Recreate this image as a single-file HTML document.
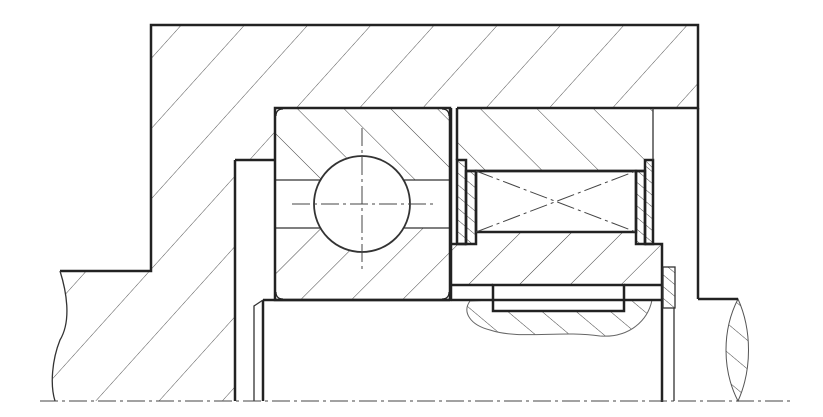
<!DOCTYPE html>
<html><head><style>html,body{margin:0;padding:0;background:#fff}svg{display:block}</style></head>
<body>
<svg width="823" height="417" viewBox="0 0 823 417" xmlns="http://www.w3.org/2000/svg">
<defs>
<pattern id="hH" patternUnits="userSpaceOnUse" width="200" height="47" patternTransform="translate(181,25) rotate(-48)"><line x1="-10" y1="0" x2="210" y2="0" stroke="#555" stroke-width="1"/></pattern>
<pattern id="hB" patternUnits="userSpaceOnUse" width="200" height="33" patternTransform="translate(297,108) rotate(45)"><line x1="-10" y1="0" x2="210" y2="0" stroke="#444" stroke-width="1"/></pattern>
<pattern id="hI" patternUnits="userSpaceOnUse" width="200" height="36" patternTransform="translate(300,300) rotate(-45)"><line x1="-10" y1="0" x2="210" y2="0" stroke="#444" stroke-width="1"/></pattern>
<pattern id="hC" patternUnits="userSpaceOnUse" width="200" height="40" patternTransform="translate(480,108) rotate(45)"><line x1="-10" y1="0" x2="210" y2="0" stroke="#444" stroke-width="1"/></pattern>
<pattern id="hS" patternUnits="userSpaceOnUse" width="200" height="9" patternTransform="rotate(40)"><line x1="-10" y1="0" x2="210" y2="0" stroke="#444" stroke-width="1"/></pattern>
<pattern id="hW" patternUnits="userSpaceOnUse" width="200" height="22" patternTransform="rotate(40)"><line x1="-10" y1="0" x2="210" y2="0" stroke="#444" stroke-width="1"/></pattern>
</defs>
<path d="M151,25 H698 V108 H275 V160 H235 V401 H55 C45,370 70,330 66,300 C64,285 60,275 60,271 H151 Z" fill="url(#hH)"/>
<rect x="275" y="108" width="175" height="72" fill="url(#hB)"/>
<rect x="275" y="228" width="175" height="72" fill="url(#hI)"/>
<g fill="none" stroke="#333" stroke-width="1.3">
<line x1="275" y1="180" x2="450" y2="180"/>
<line x1="275" y1="228" x2="450" y2="228"/>
</g>
<circle cx="362" cy="204" r="48" fill="#fff"/>
<rect x="457" y="108" width="196" height="63" fill="url(#hC)"/>
<rect x="466" y="171" width="170" height="61" fill="#fff"/>
<path d="M451,244 H476 V232 H636 V244 H662 V285 H451 Z" fill="url(#hI)"/>
<rect x="457" y="160" width="9" height="84" fill="url(#hS)"/>
<rect x="466" y="171" width="10" height="73" fill="url(#hS)"/>
<rect x="636" y="171" width="9" height="73" fill="url(#hS)"/>
<rect x="645" y="160" width="8" height="84" fill="url(#hS)"/>
<rect x="663" y="267" width="12" height="41" fill="url(#hS)"/>
<path d="M470,301 C462,312 470,325 490,330 C520,340 560,330 600,336 C630,338 648,320 652,300 H624 V311 H493 V300 Z" fill="url(#hW)" stroke="#666" stroke-width="1"/>
<path d="M738,299 C722,330 722,370 738,401 C752,370 752,330 738,299 Z" fill="url(#hW)" stroke="#555" stroke-width="1"/>

<g fill="none" stroke="#222" stroke-width="2.5">
<path d="M60,271 H151 V25 H698 V108 H457"/>
<line x1="698" y1="108" x2="698" y2="299"/>
<path d="M698,299 H738"/>
<line x1="235" y1="160" x2="235" y2="401"/>
<path d="M235,160 H275"/>
<rect x="275" y="108" width="175" height="192"/>
<line x1="451" y1="108" x2="451" y2="300"/>
<line x1="457" y1="108" x2="457" y2="160"/>
<line x1="263" y1="300" x2="263" y2="401"/>
<path d="M263,300 H450"/>
<rect x="457" y="160" width="9" height="84"/>
<rect x="466" y="171" width="10" height="73"/>
<rect x="636" y="171" width="9" height="73"/>
<rect x="645" y="160" width="8" height="84"/>
<path d="M466,171 H645"/>
<rect x="476" y="171" width="160" height="61"/>
<path d="M451,244 H466 M645,244 H662 V300 H451"/>
<path d="M451,285 H493 M624,285 H662"/>
<rect x="493" y="285" width="131" height="26"/>
<line x1="662" y1="300" x2="662" y2="402"/>
</g>
<g fill="none" stroke="#333" stroke-width="1.3">
<path d="M60,271 C66,290 72,320 60,340 C52,360 50,385 55,401"/>
<path d="M254,401 V306 L263,300"/>
<line x1="653" y1="108" x2="653" y2="160"/>
<rect x="663" y="267" width="12" height="41"/>
<line x1="674" y1="308" x2="674" y2="401"/>
<circle cx="362" cy="204" r="48" stroke-width="1.8"/>
</g>
<g fill="none" stroke="#222" stroke-width="1.2">
<path d="M276,116 Q276,109 283,109 M449,116 Q449,109 442,109 M276,292 Q276,299 283,299 M449,292 Q449,299 442,299"/>
</g>
<g fill="none" stroke="#444" stroke-width="1" stroke-dasharray="18,4,3,4">
<line x1="292" y1="204" x2="436" y2="204"/>
<line x1="362" y1="128" x2="362" y2="270"/>
<line x1="476" y1="171" x2="636" y2="232"/>
<line x1="476" y1="232" x2="636" y2="171"/>
<line x1="40" y1="401" x2="790" y2="401"/>
</g>
</svg>
</body></html>
